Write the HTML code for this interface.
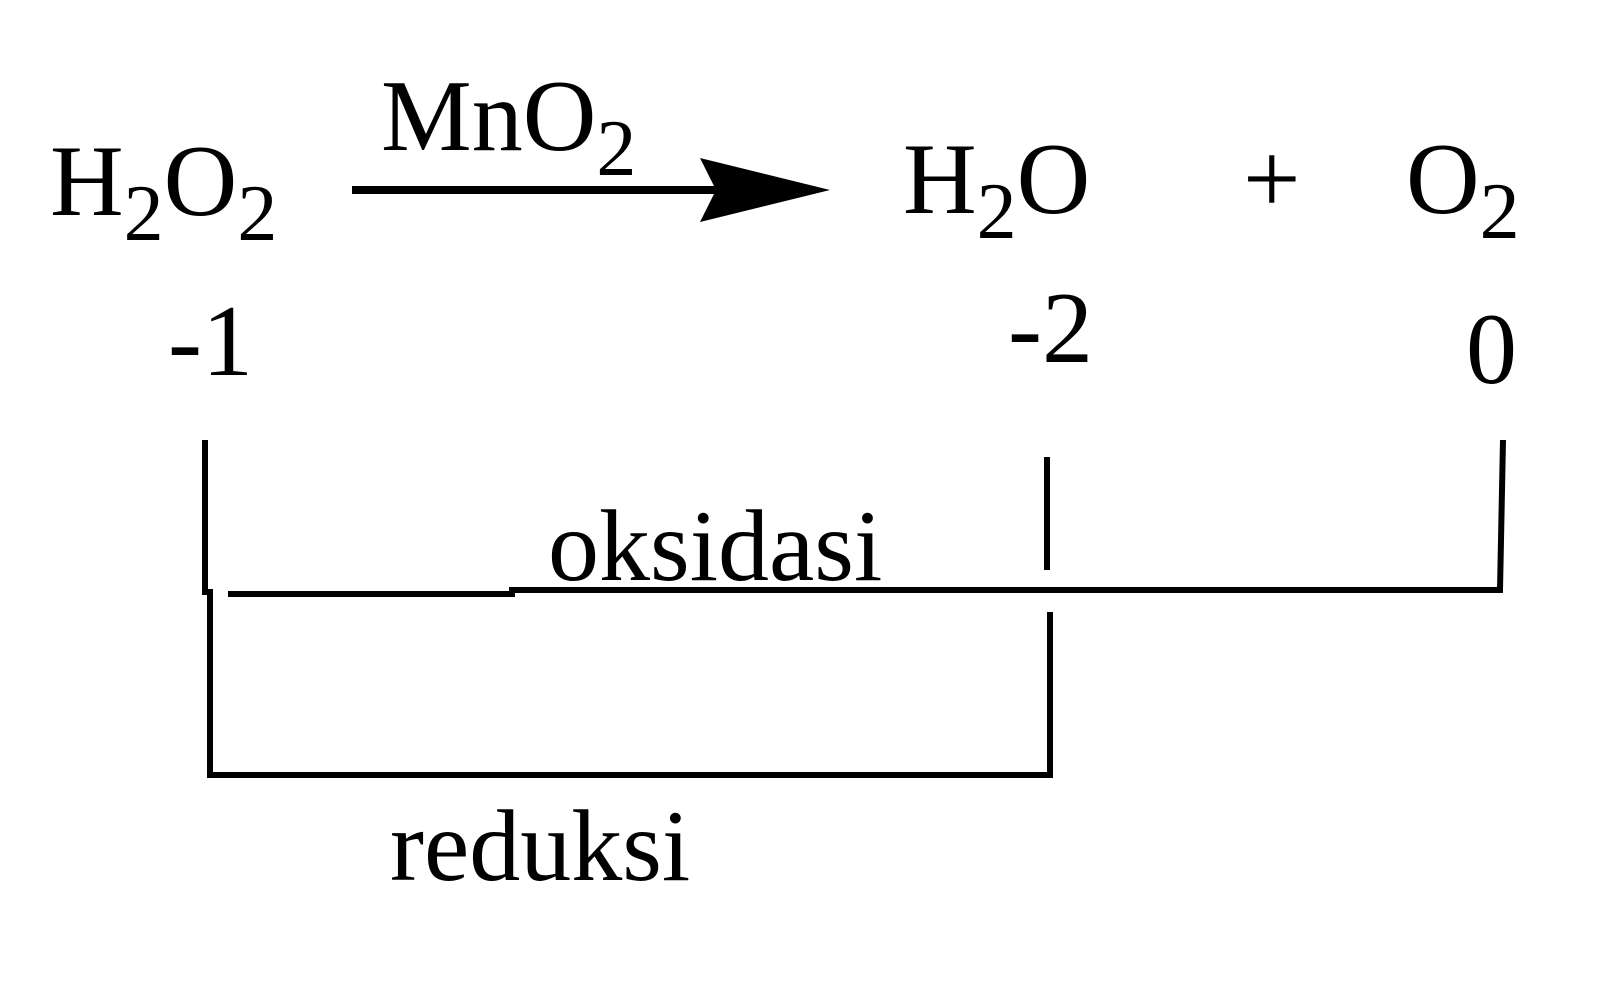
<!DOCTYPE html>
<html><head><style>
body{margin:0;background:#fff;}
svg{display:block}
text{font-family:"Liberation Serif",serif;fill:#000}
</style></head><body>
<svg width="1600" height="997" viewBox="0 0 1600 997" xmlns="http://www.w3.org/2000/svg">
<g font-size="102">
<text x="50" y="215">H<tspan font-size="80" dy="25">2</tspan><tspan dy="-25">O</tspan><tspan font-size="80" dy="25">2</tspan></text>
<text x="381" y="150">MnO<tspan font-size="80" dy="25">2</tspan></text>
<text x="903" y="213">H<tspan font-size="80" dy="25">2</tspan><tspan dy="-25">O</tspan></text>
<text x="1243" y="213">+</text>
<text x="1406" y="213">O<tspan font-size="80" dy="25">2</tspan></text>
<text x="168" y="375">-1</text>
<text x="1008" y="362">-2</text>
<text x="1466" y="383">0</text>
<text x="548" y="580">oksidasi</text>
<text x="390" y="880">reduksi</text>
</g>
<line x1="352" y1="190" x2="720" y2="190" stroke="#000" stroke-width="8"/>
<polygon points="700,158 830,190 700,222 716,190" fill="#000"/>
<g stroke="#000" stroke-width="6" fill="none">
<polyline points="205,440 205,592 210,592 210,775 1050,775 1050,612"/>
<line x1="1047" y1="457" x2="1047" y2="570"/>
<polyline points="228,594 512,594 512,590 1500,590 1503,440"/>
</g>
</svg>
</body></html>
